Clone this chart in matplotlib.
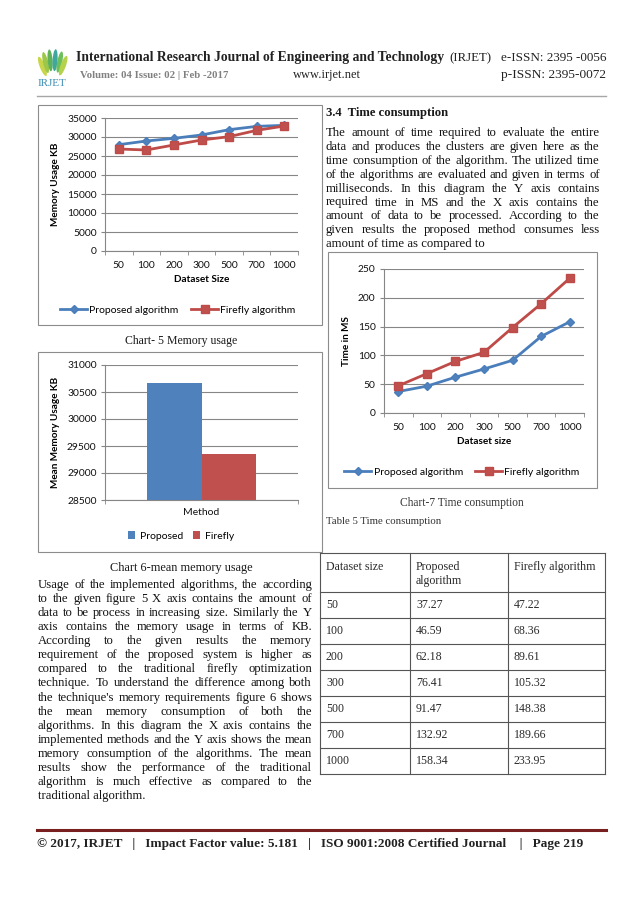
import matplotlib
matplotlib.use('Agg')
import matplotlib.pyplot as plt
from matplotlib.patches import Rectangle, Ellipse
from matplotlib.lines import Line2D
import numpy as np

# 数据
dataset_sizes = ['50', '100', '200', '300', '500', '700', '1000']
mem_proposed = [27980, 28950, 29650, 30530, 31930, 32800, 33070]
mem_firefly = [26840, 26580, 27900, 29210, 30090, 31750, 32890]
mean_methods = ['Proposed', 'Firefly']
mean_memory = [30660, 29346]
time_proposed = [37.27, 46.59, 62.18, 76.41, 91.47, 132.92, 158.34]
time_firefly = [47.22, 68.36, 89.61, 105.32, 148.38, 189.66, 233.95]
table_header = ['Dataset size', 'Proposed\nalgorithm', 'Firefly algorithm']

W, H = 638, 902
BLUE_L, BLUE_M = '#4A7EBB', '#4F81BD'
RED_L, RED_M = '#BE4B48', '#C0504D'
SERIF = 'Liberation Serif'
TIMES = 'Liberation Serif'
SANS = 'Lato'
TICK = 7.4
LAB = 7.2
LEG = 7.5

fig = plt.figure(figsize=(W / 100, H / 100), dpi=100)
fig.patch.set_facecolor('white')
renderer = fig.canvas.get_renderer()


def fx(x):
    return x / W


def fy(y):
    return 1 - y / H


def box(x0, y0, x1, y1, ec='#8C8C8C', lw=0.8):
    fig.add_artist(Rectangle((fx(x0), fy(y1)), (x1 - x0) / W, (y1 - y0) / H,
                             transform=fig.transFigure, fill=False, ec=ec, lw=lw))


def hline(x0, x1, y, color='k', lw=0.8):
    fig.add_artist(Line2D([fx(x0), fx(x1)], [fy(y), fy(y)], transform=fig.transFigure,
                          color=color, lw=lw))


def vline(x, y0, y1, color='k', lw=0.8):
    fig.add_artist(Line2D([fx(x), fx(x)], [fy(y0), fy(y1)], transform=fig.transFigure,
                          color=color, lw=lw))


def txt(x, y, s, **kw):
    kw.setdefault('va', 'center')
    kw.setdefault('family', SERIF)
    return fig.text(fx(x), fy(y), s, **kw)


def width_of(s, size, **kw):
    a = txt(0, 0, s, size=size, **kw)
    w = a.get_window_extent(renderer).width
    a.remove()
    return w


def fit(x, y, s, width, **kw):
    # 按目标宽度调整字号
    size = 10 * width / width_of(s, 10, **{k: v for k, v in kw.items() if k in ('weight', 'family')})
    return txt(x, y, s, size=size, **kw)


def justify(lines, x0, x1, y0, dy, color='#111111', fill=0.985):
    wmax = max(width_of(l, 10) for l in lines[:-1])
    size = 10 * (x1 - x0) * fill / wmax
    for i, line in enumerate(lines):
        y = y0 + i * dy
        if i == len(lines) - 1:
            txt(x0, y, line, size=size, color=color)
            continue
        words = line.split()
        arts = [txt(0, y, w, size=size, color=color) for w in words]
        widths = [a.get_window_extent(renderer).width for a in arts]
        gap = (x1 - x0 - sum(widths)) / max(len(words) - 1, 1)
        x = x0
        for a, w in zip(arts, widths):
            a.set_x(fx(x))
            x += w + gap


def excel_axes(rect, ncat):
    x0, y0, x1, y1 = rect
    ax = fig.add_axes([fx(x0), fy(y1), (x1 - x0) / W, (y1 - y0) / H])
    for s in ['top', 'right']:
        ax.spines[s].set_visible(False)
    for s in ['left', 'bottom']:
        ax.spines[s].set_color('#868686')
        ax.spines[s].set_linewidth(0.8)
    ax.yaxis.grid(True, color='#868686', lw=0.8)
    ax.set_axisbelow(True)
    ax.set_xlim(-0.5, ncat - 0.5)
    ax.set_xticks(np.arange(ncat))
    ax.set_xticks(np.arange(ncat + 1) - 0.5, minor=True)
    ax.tick_params(axis='x', which='major', length=0, pad=7, labelsize=TICK)
    ax.tick_params(axis='x', which='minor', length=3, color='#868686', direction='out')
    ax.tick_params(axis='y', length=3, color='#868686', labelsize=TICK, pad=3)
    for lab in ax.get_xticklabels() + ax.get_yticklabels():
        lab.set_family(SANS)
        lab.set_color('#111111')
    return ax


# ---------------- 页眉 ----------------
for ang, col in zip([-62, -38, -14, 10, 34, 58],
                    ['#C9D64A', '#9CC74A', '#5FB15A', '#3FA6A0', '#6CBF5A', '#B5D24C']):
    t = np.deg2rad(90 - ang)
    fig.add_artist(Ellipse((fx(53 + 12 * np.cos(t)), fy(72 - 12 * np.sin(t))), 5 / W, 22 / H,
                           angle=-ang * (W / H) * 0.7, transform=fig.transFigure,
                           color=col, lw=0))
fit(38, 84, 'IRJET', 29, color='#3C8DB4')

fit(76, 58, 'International Research Journal of Engineering and Technology', 369,
    weight='bold', color='#222222')
fit(449, 58, '(IRJET)', 42, color='#222222')
fit(501, 58, 'e-ISSN: 2395 -0056', 105, color='#222222')
fit(80, 75, 'Volume: 04 Issue: 02 | Feb -2017', 148, weight='bold', color='#808080')
fit(293, 75, 'www.irjet.net', 67, color='#222222')
fit(501, 75, 'p-ISSN: 2395-0072', 105, color='#222222')
hline(37, 606, 96, color='#A6A6A6', lw=1)

# ---------------- Chart 5 ----------------
box(38, 105, 322, 325)
ax1 = excel_axes((105, 118, 298, 251), len(dataset_sizes))
x = np.arange(len(dataset_sizes))
ax1.plot(x, mem_proposed, color=BLUE_L, lw=2, marker='D', ms=4.5, mfc=BLUE_M, mec=BLUE_L,
         label='Proposed algorithm')
ax1.plot(x, mem_firefly, color=RED_L, lw=2, marker='s', ms=6, mfc=RED_M, mec=RED_L,
         label='Firefly algorithm')
ax1.set_ylim(0, 35000)
ax1.set_yticks(np.arange(0, 35001, 5000))
ax1.set_xticklabels(dataset_sizes)
ax1.set_xlabel('Dataset Size', family=SANS, weight='bold', size=LAB, labelpad=4)
ax1.set_ylabel('Memory Usage KB', family=SANS, weight='bold', size=LAB, labelpad=5)
ax1.legend(loc='center', bbox_to_anchor=(fx(178), fy(310)), bbox_transform=fig.transFigure,
           ncol=2, frameon=False, prop={'family': SANS, 'size': LEG}, handlelength=2.6,
           columnspacing=1.2, handletextpad=0.2)
fit(125, 341, 'Chart- 5 Memory usage', 112, color='#1A1A1A')

# ---------------- Chart 6 ----------------
box(38, 352, 322, 552)
ax2 = excel_axes((105, 365, 298, 500), 1)
bw = 0.28
ax2.bar(-bw / 2, mean_memory[0], width=bw, color=BLUE_M, label=mean_methods[0])
ax2.bar(bw / 2, mean_memory[1], width=bw, color=RED_M, label=mean_methods[1])
ax2.set_ylim(28500, 31000)
ax2.set_yticks(np.arange(28500, 31001, 500))
ax2.set_xticklabels(['Method'])
ax2.tick_params(axis='x', which='major', labelsize=LEG, pad=6)
ax2.set_ylabel('Mean Memory Usage KB', family=SANS, weight='bold', size=LAB, labelpad=5)
ax2.legend(loc='center', bbox_to_anchor=(fx(181), fy(536)), bbox_transform=fig.transFigure,
           ncol=2, frameon=False, prop={'family': SANS, 'size': LEG}, handlelength=0.7,
           handleheight=0.7, columnspacing=1.0, handletextpad=0.4)
fit(110, 568, 'Chart 6-mean memory usage', 142, color='#1A1A1A')

# ---------------- Chart 7 ----------------
box(328, 252, 597, 488)
ax3 = excel_axes((384, 269, 584, 413), len(dataset_sizes))
ax3.plot(x, time_proposed, color=BLUE_L, lw=2, marker='D', ms=4.5, mfc=BLUE_M, mec=BLUE_L,
         label='Proposed algorithm')
ax3.plot(x, time_firefly, color=RED_L, lw=2, marker='s', ms=6, mfc=RED_M, mec=RED_L,
         label='Firefly algorithm')
ax3.set_ylim(0, 250)
ax3.set_yticks(np.arange(0, 251, 50))
ax3.set_xticklabels(dataset_sizes)
ax3.set_xlabel('Dataset size', family=SANS, weight='bold', size=LAB, labelpad=4)
ax3.set_ylabel('Time in MS', family=SANS, weight='bold', size=LAB, labelpad=5)
ax3.legend(loc='center', bbox_to_anchor=(fx(462), fy(472)), bbox_transform=fig.transFigure,
           ncol=2, frameon=False, prop={'family': SANS, 'size': LEG}, handlelength=2.6,
           columnspacing=1.2, handletextpad=0.2)
fit(400, 503, 'Chart-7 Time consumption', 124, family=TIMES, color='#333333')
fit(326, 522, 'Table 5 Time consumption', 115, family=TIMES, color='#333333')

# ---------------- Table 5 ----------------
row_y = [553, 592, 618, 644, 670, 696, 722, 748, 774]
col_x = [320, 410, 508, 605]
for yy in row_y:
    hline(col_x[0], col_x[-1], yy, color='#555555', lw=0.8)
for xx in col_x:
    vline(xx, row_y[0], row_y[-1], color='#555555', lw=0.8)
tsize = 8.6
for j, h in enumerate(table_header):
    txt(col_x[j] + 6, 561, h, size=tsize, va='top', linespacing=1.25, color='#2A2A2A')
for i in range(len(dataset_sizes)):
    yc = (row_y[i + 1] + row_y[i + 2]) / 2
    cells = [dataset_sizes[i], '%.2f' % time_proposed[i], '%.2f' % time_firefly[i]]
    for j, c in enumerate(cells):
        txt(col_x[j] + 6, yc, c, size=tsize, color='#2A2A2A')

# ---------------- 正文 ----------------
left_para = [
    'Usage of the implemented algorithms, the according',
    'to the given figure 5 X axis contains the amount of',
    'data to be process in increasing size. Similarly the Y',
    'axis contains the memory usage in terms of KB.',
    'According to the given results the memory',
    'requirement of the proposed system is higher as',
    'compared to the traditional firefly optimization',
    'technique. To understand the difference among both',
    "the technique's memory requirements figure 6 shows",
    'the mean memory consumption of both the',
    'algorithms. In this diagram the X axis contains the',
    'implemented methods and the Y axis shows the mean',
    'memory consumption of the algorithms. The mean',
    'results show the performance of the traditional',
    'algorithm is much effective as compared to the',
    'traditional algorithm.',
]
justify(left_para, 38, 312, 585, 14.07)

fit(326, 113, '3.4  Time consumption', 122, weight='bold', color='#1A1A1A')
right_para = [
    'The amount of time required to evaluate the entire',
    'data and produces the clusters are given here as the',
    'time consumption of the algorithm. The utilized time',
    'of the algorithms are evaluated and given in terms of',
    'milliseconds. In this diagram the Y axis contains',
    'required time in MS and the X axis contains the',
    'amount of data to be processed. According to the',
    'given results the proposed method consumes less',
    'amount of time as compared to',
]
justify(right_para, 326, 600, 133, 13.9)

# ---------------- 页脚 ----------------
hline(37, 606, 831, color='#C8C8C8', lw=1.2)
hline(37, 606, 829.5, color='#7A1F1F', lw=2.2)
fit(37, 844, '\u00a9 2017, IRJET   |   Impact Factor value: 5.181   |   '
             'ISO 9001:2008 Certified Journal    |   Page 219', 543,
    weight='bold', color='#222222')

fig.savefig('out.png', dpi=100)
